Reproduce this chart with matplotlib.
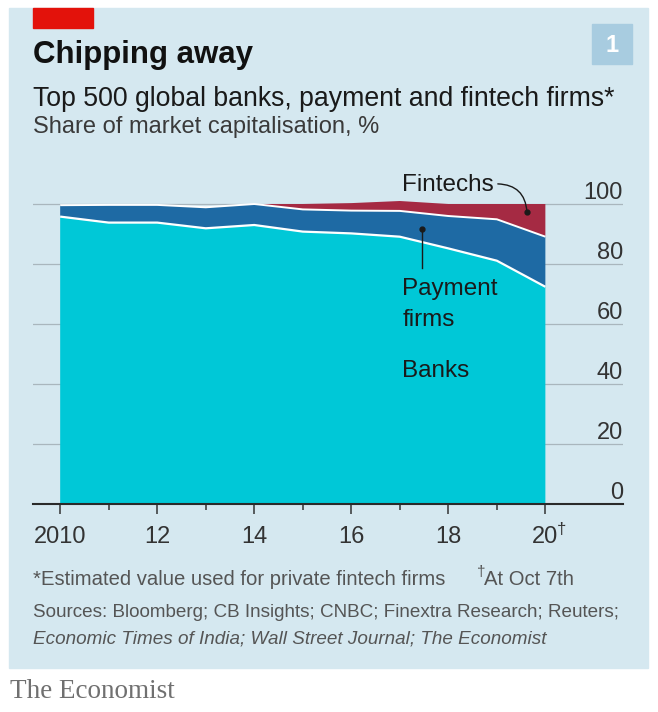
import matplotlib.pyplot as plt
from matplotlib.patches import Rectangle
from matplotlib.transforms import blended_transform_factory

plt.rcParams['font.family'] = 'Liberation Sans'

# Share of market capitalisation, %
years = [2010, 2011, 2012, 2013, 2014, 2015, 2016, 2017, 2018, 2019, 2020]
banks = [95.8, 93.8, 93.8, 91.9, 93.0, 90.8, 90.2, 89.1, 85.2, 81.1, 72.4]
payments = [3.8, 5.9, 5.9, 7.0, 7.0, 7.4, 7.6, 8.6, 10.8, 13.8, 16.7]
fintechs = [0.0, 0.0, 0.0, 0.0, 0.0, 1.8, 2.5, 3.3, 4.0, 5.1, 10.9]

yticks = [0, 20, 40, 60, 80, 100]
xmajor = [2010, 2012, 2014, 2016, 2018, 2020]
xlabels = ['2010', '12', '14', '16', '18', '20']

BG = '#d5e8f0'
CYAN = '#00c8d7'
BLUE = '#1e6aa4'
RED = '#a52a43'
DARK = '#1a1a1a'
TICK = '#333333'

W, H = 658, 712


def px(x, y):                      # pixel position -> figure fraction
    return x / W, 1 - y / H


fig = plt.figure(figsize=(W / 100, H / 100), dpi=100)

# panel, red tag and chart number
fig.patches.append(Rectangle(px(9, 668), 639 / W, 660 / H, transform=fig.transFigure,
                             color=BG, zorder=-2))
fig.patches.append(Rectangle(px(33, 28), 60 / W, 20 / H, transform=fig.transFigure,
                             color='#e3120b', zorder=-1))
fig.patches.append(Rectangle(px(592, 64), 40 / W, 40 / H, transform=fig.transFigure,
                             color='#a8cce0', zorder=-1))
fig.text(*px(612, 45), '1', fontsize=17, fontweight='bold', color='white',
         ha='center', va='center')

fig.text(*px(33, 63), 'Chipping away', fontsize=22.5, fontweight='bold',
         color='#111111', va='baseline')
fig.text(*px(33, 106), 'Top 500 global banks, payment and fintech firms*',
         fontsize=19.2, color=DARK, va='baseline')
fig.text(*px(33, 133), 'Share of market capitalisation, %', fontsize=17,
         color='#3a3a3a', va='baseline')

# chart area
ax = fig.add_axes([33 / W, (H - 504) / H, 590 / W, 330 / H])
ax.set_zorder(1)
ax.patch.set_visible(False)
ax.set_xlim(2009.44, 2021.6)
ax.set_ylim(0, 110)

ax.stackplot(years, banks, payments, fintechs, colors=[CYAN, BLUE, RED],
             linewidth=0, zorder=2)
pay_top = [b + p for b, p in zip(banks, payments)]
ax.plot(years, banks, color='white', lw=1.6, zorder=3, solid_capstyle='butt')
ax.plot(years, pay_top, color='white', lw=1.4, zorder=3, solid_capstyle='butt')

ax.set_yticks(yticks)
ax.tick_params(axis='y', left=False, labelleft=False)
ax.yaxis.grid(True, color='#a9b6bd', lw=0.9)
ax.set_axisbelow(True)

trans = blended_transform_factory(ax.transAxes, ax.transData)
for v in yticks:
    ax.annotate(str(v), xy=(1, v), xycoords=trans, xytext=(0, 3.5),
                textcoords='offset points', ha='right', va='baseline',
                fontsize=17, color=TICK)

ax.set_xticks(xmajor)
ax.set_xticklabels(xlabels, fontsize=17, color=TICK)
ax.set_xticks(years, minor=True)
ax.tick_params(axis='x', which='major', length=7.5, width=1.1, color=TICK, pad=8)
ax.tick_params(axis='x', which='minor', length=4.5, width=1.1, color=TICK)
ax.annotate('†', xy=(2020, 0), xytext=(8.5, -13), textcoords='offset points',
            ha='left', va='top', fontsize=12, color=TICK, annotation_clip=False)

for s in ['top', 'left', 'right']:
    ax.spines[s].set_visible(False)
ax.spines['bottom'].set_color('#2a2a2a')
ax.spines['bottom'].set_linewidth(1.5)
ax.spines['bottom'].set_zorder(4)

# labels inside the chart
ax.text(2017.05, 104.2, 'Fintechs', fontsize=17.5, color=DARK, va='baseline')
ax.annotate('', xy=(2019.62, 97.4), xytext=(2019.02, 106.7),
            arrowprops=dict(arrowstyle='-', color=DARK, lw=1,
                            connectionstyle='arc3,rad=-0.45', shrinkA=0, shrinkB=0))
ax.plot(2019.62, 97.4, 'o', ms=3.5, color=DARK, zorder=5)

ax.plot([2017.45, 2017.45], [91.7, 78.7], color=DARK, lw=1, zorder=5)
ax.plot(2017.45, 91.7, 'o', ms=3.5, color=DARK, zorder=5)
ax.text(2017.05, 69.7, 'Payment', fontsize=17.5, color=DARK, va='baseline')
ax.text(2017.05, 59.3, 'firms', fontsize=17.5, color=DARK, va='baseline')
ax.text(2017.05, 42.3, 'Banks', fontsize=17.5, color=DARK, va='baseline')

# footnotes
fig.text(*px(33, 585), '*Estimated value used for private fintech firms',
         fontsize=14.6, color='#555555', va='baseline')
fig.text(*px(477, 576), '†', fontsize=11, color='#555555', va='baseline')
fig.text(*px(484, 585), 'At Oct 7th', fontsize=14.6, color='#555555', va='baseline')
fig.text(*px(33, 617), 'Sources: Bloomberg; CB Insights; CNBC; Finextra Research; Reuters;',
         fontsize=13.6, color='#555555', va='baseline')
fig.text(*px(33, 644), 'Economic Times of India; Wall Street Journal; The Economist',
         fontsize=13.6, style='italic', color='#555555', va='baseline')

fig.text(*px(10, 698), 'The Economist', fontsize=19.5, family='Liberation Serif',
         color='#707070', va='baseline')

fig.savefig('out.png', dpi=100, facecolor='white')
